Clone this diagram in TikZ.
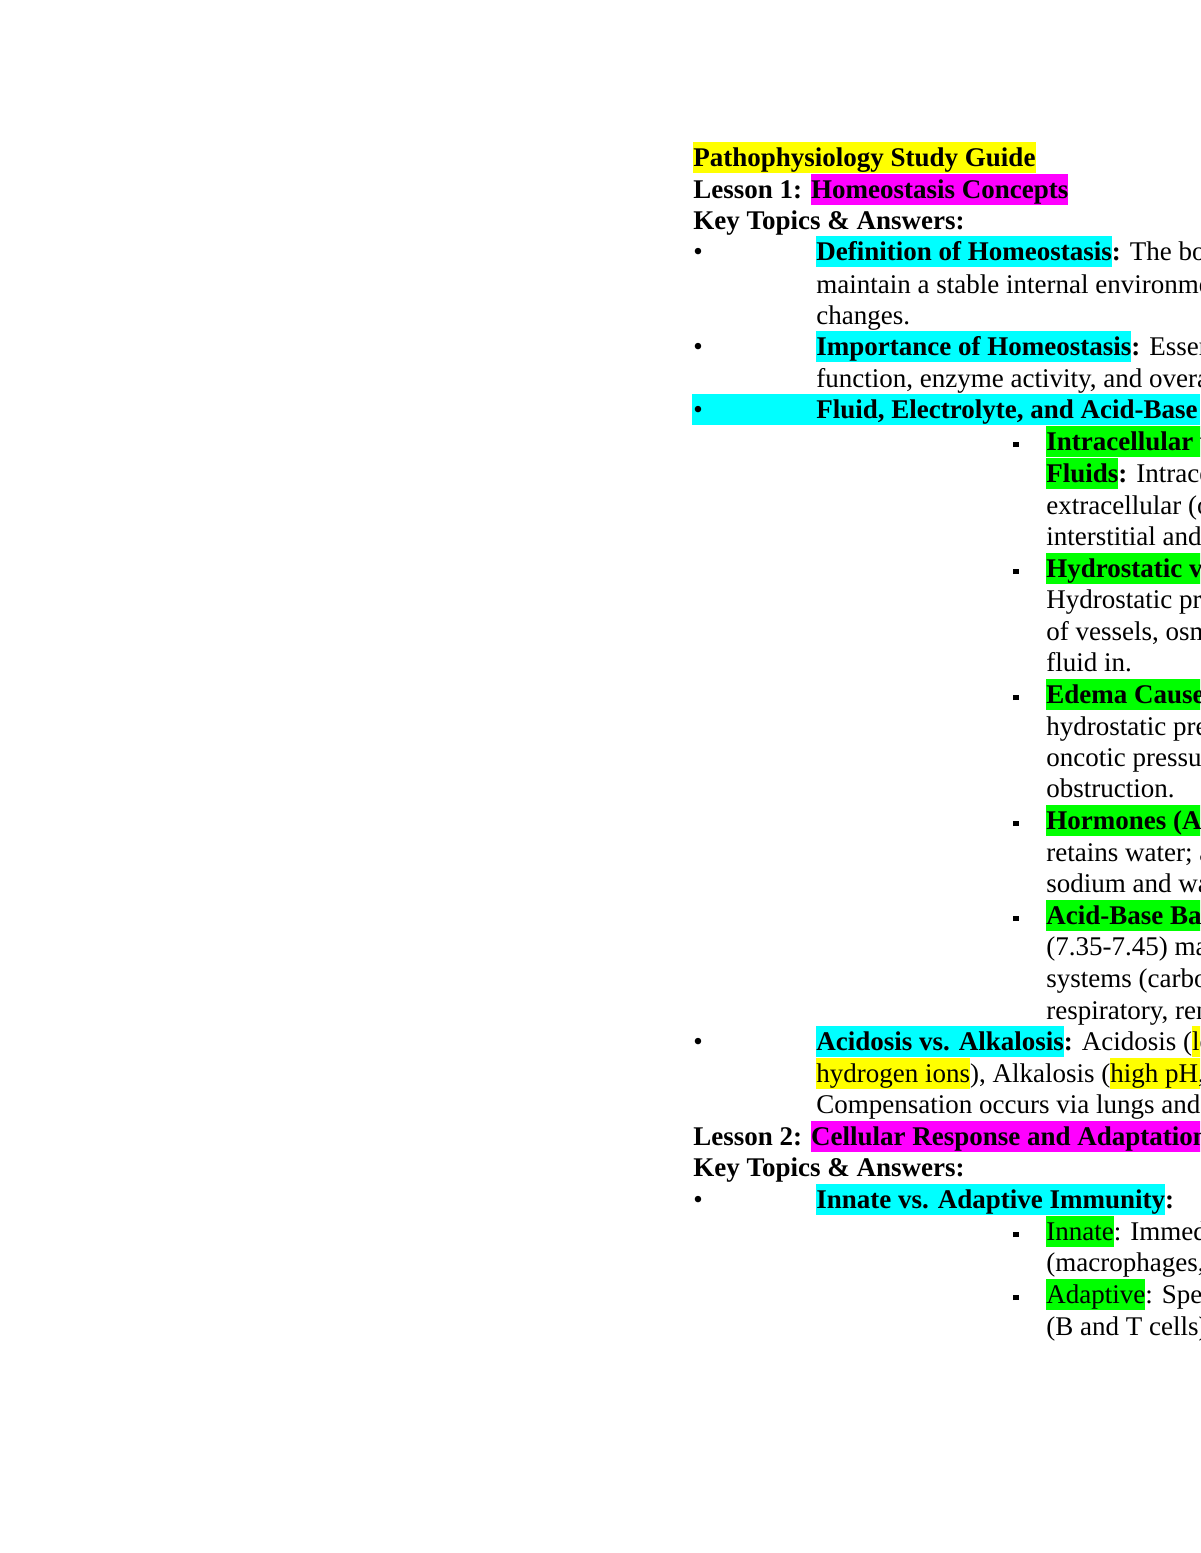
\documentclass[tikz,border=0pt]{standalone}
\usepackage{fontspec}
\setmainfont{Liberation Serif}
\usepackage{xcolor}
\definecolor{hy}{HTML}{FFFF00}
\definecolor{hm}{HTML}{FF00FF}
\definecolor{hc}{HTML}{00FFFF}
\definecolor{hg}{HTML}{00FF00}
\newcommand\hl[2]{{\setlength\fboxsep{0pt}\colorbox{#1}{\rule[-3.6pt]{0pt}{15.6pt}#2}}}
\newcommand\sqb{\rule[1.5pt]{2.6pt}{2.6pt}}
\begin{document}
\begin{tikzpicture}[x=0.5pt,y=-0.5pt,
  ln/.style={anchor=base west,inner sep=0pt,font=\fontsize{13.5pt}{15.75pt}\selectfont}]
\useasboundingbox (0,0) rectangle (1200,1553);
\clip (0,0) rectangle (1200,1553);
\fill[white] (0,0) rectangle (1200,1553);
\fill[hc] (692,394) rectangle (1200,425);
\node[ln] (t1) at (693,166) {\bfseries\hl{hy}{Pathophysiology Study Guide}};
\node[ln] (t2) at (693,198) {\bfseries Lesson 1: \hl{hm}{Homeostasis Concepts}};
\node[ln] (t3) at (693,229) {\bfseries Key Topics \& Answers:};
\node[ln] (b4) at (693,260) {•};
\node[ln] (t4) at (816,260) {\textbf{\hl{hc}{Definition of Homeostasis}:} The body's ability to};
\node[ln] (t5) at (816,293) {maintain a stable internal environment despite external};
\node[ln] (t6) at (816,324) {changes.};
\node[ln] (b7) at (693,355) {•};
\node[ln] (t7) at (816,355) {\textbf{\hl{hc}{Importance of Homeostasis}:} Essential for cell};
\node[ln] (t8) at (816,387) {function, enzyme activity, and overall health.};
\node[ln] (b9) at (693,418) {•};
\node[ln] (t9) at (816,418) {\bfseries Fluid, Electrolyte, and Acid-Base Balance:};
\node[ln] (b10) at (1013,450) {\sqb};
\node[ln] (t10) at (1046,450) {\bfseries\hl{hg}{Intracellular vs. Extracellular}};
\node[ln] (t11) at (1046,482) {\textbf{\hl{hg}{Fluids}:} Intracellular (inside cells),};
\node[ln] (t12) at (1046,514) {extracellular (outside cells,};
\node[ln] (t13) at (1046,545) {interstitial and plasma).};
\node[ln] (b14) at (1013,577) {\sqb};
\node[ln] (t14) at (1046,577) {\bfseries\hl{hg}{Hydrostatic vs. Osmotic Pressure}:};
\node[ln] (t15) at (1046,608) {Hydrostatic pressure pushes fluid out};
\node[ln] (t16) at (1046,640) {of vessels, osmotic pressure pulls};
\node[ln] (t17) at (1046,671) {fluid in.};
\node[ln] (b18) at (1013,703) {\sqb};
\node[ln] (t18) at (1046,703) {\textbf{\hl{hg}{Edema Causes}:} Increased};
\node[ln] (t19) at (1046,735) {hydrostatic pressure, decreased};
\node[ln] (t20) at (1046,766) {oncotic pressure, lymphatic};
\node[ln] (t21) at (1046,797) {obstruction.};
\node[ln] (b22) at (1013,829) {\sqb};
\node[ln] (t22) at (1046,829) {\textbf{\hl{hg}{Hormones (ADH, Aldosterone)}:} ADH};
\node[ln] (t23) at (1046,861) {retains water; aldosterone retains};
\node[ln] (t24) at (1046,892) {sodium and water.};
\node[ln] (b25) at (1013,924) {\sqb};
\node[ln] (t25) at (1046,924) {\textbf{\hl{hg}{Acid-Base Balance}:} Normal pH};
\node[ln] (t26) at (1046,955) {(7.35-7.45) maintained by buffer};
\node[ln] (t27) at (1046,987) {systems (carbonic acid-bicarbonate),};
\node[ln] (t28) at (1046,1019) {respiratory, renal.};
\node[ln] (b29) at (693,1050) {•};
\node[ln] (t29) at (816,1050) {\textbf{\hl{hc}{Acidosis vs. Alkalosis}:} Acidosis (\hl{hy}{low pH, excess}};
\node[ln] (t30) at (816,1082) {\hl{hy}{hydrogen ions}), Alkalosis (\hl{hy}{high pH, low hydrogen ions}).};
\node[ln] (t31) at (816,1113) {Compensation occurs via lungs and kidneys.};
\node[ln] (t32) at (693,1145) {\bfseries Lesson 2: \hl{hm}{Cellular Response and Adaptation}};
\node[ln] (t33) at (693,1176) {\bfseries Key Topics \& Answers:};
\node[ln] (b34) at (693,1208) {•};
\node[ln] (t34) at (816,1208) {\bfseries\hl{hc}{Innate vs. Adaptive Immunity}:};
\node[ln] (b35) at (1013,1240) {\sqb};
\node[ln] (t35) at (1046,1240) {\hl{hg}{Innate}: Immediate, nonspecific};
\node[ln] (t36) at (1046,1271) {(macrophages, neutrophils).};
\node[ln] (b37) at (1013,1303) {\sqb};
\node[ln] (t37) at (1046,1303) {\hl{hg}{Adaptive}: Specific, memory-based};
\node[ln] (t38) at (1046,1335) {(B and T cells).};
\end{tikzpicture}
\end{document}
